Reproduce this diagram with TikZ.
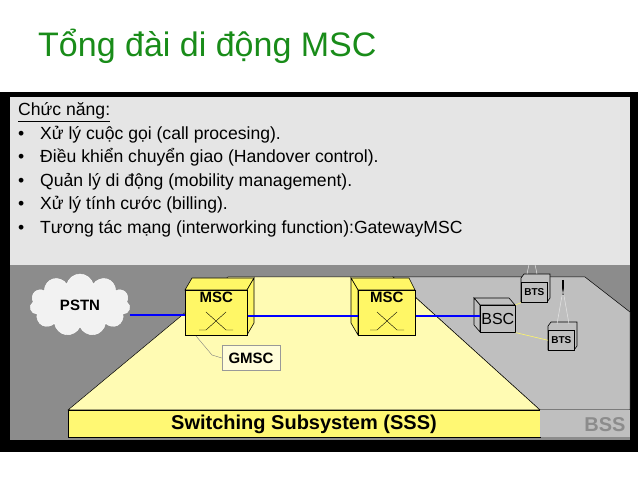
\documentclass[tikz,border=0pt]{standalone}
\usepackage{fontspec}
\setmainfont{Liberation Sans}
\usetikzlibrary{shapes.symbols}
\begin{document}
\begin{tikzpicture}[x=1pt,y=-1pt,
  cubef/.style={draw=black,line width=0.6pt},
  lbl/.style={font=\fontsize{15}{17}\selectfont\bfseries},
  bul/.style={anchor=base west,font=\fontsize{17.6}{21}\selectfont}]
\useasboundingbox (0,0) rectangle (638,478);
\fill[white] (0,0) rectangle (638,478);
\node[anchor=base west,text=green!50!black!90,font=\fontsize{34}{40}\selectfont,inner sep=0] (title) at (38,57) {Tổng đài di động MSC};
\fill[black] (0,92) rectangle (638,452);
\fill[black!45] (10,265) rectangle (630,440);
\fill[black!10] (10,97) rectangle (630,265);
% BSS region
\filldraw[fill=black!25,draw=black,line width=0.5pt] (393,277) -- (585,277) -- (630,312) -- (630,410) -- (540,410) -- cycle;
% SSS region
\filldraw[fill=yellow!30,draw=black,line width=0.5pt] (228,277) -- (393,277) -- (540,410) -- (68,410) -- cycle;
\filldraw[fill=yellow!55,draw=black,line width=0.6pt] (68,410) rectangle (540,437);
\fill[black!25] (540,410) rectangle (630,437);
\node[font=\fontsize{20}{24}\selectfont\bfseries] (sss) at (304,424) {Switching Subsystem (SSS)};
\node[font=\fontsize{20}{24}\selectfont\bfseries,text=black!45] (bss) at (605,425) {BSS};
% PSTN cloud
\node[cloud,cloud puffs=11,aspect=1.8,fill=black!5,draw=white,minimum width=100,minimum height=62,lbl] (pstn) at (80,305) {PSTN};
% MSC1
\filldraw[cubef,fill=yellow!60] (185,290) -- (192,278) -- (254,278) -- (247,290) -- cycle;
\filldraw[cubef,fill=yellow!60] (247,290) -- (254,278) -- (254,323) -- (247,335) -- cycle;
\node[cubef,fill=yellow!60,minimum width=62,minimum height=45,inner sep=0,anchor=north west] (msc1) at (185,290) {};
\node[lbl,anchor=north,inner sep=2] (m1t) at (msc1.north) {MSC};
\draw (199,330) -- (206,330) -- (226,312) (206,312) -- (226,330) -- (233,330);
% MSC2
\filldraw[cubef,fill=yellow!60] (358,290) -- (351,278) -- (409,278) -- (415,290) -- cycle;
\filldraw[cubef,fill=yellow!60] (358,290) -- (351,278) -- (351,323) -- (358,335) -- cycle;
\node[cubef,fill=yellow!60,minimum width=57,minimum height=45,inner sep=0,anchor=north west] (msc2) at (358,290) {};
\node[lbl,anchor=north,inner sep=2] (m2t) at (msc2.north) {MSC};
\draw (370,330) -- (377,330) -- (397,312) (377,312) -- (397,330) -- (404,330);
% BSC
\filldraw[cubef,fill=black!25] (480,305) -- (474,298) -- (509,298) -- (515,305) -- cycle;
\filldraw[cubef,fill=black!25] (480,305) -- (474,298) -- (474,325) -- (480,332) -- cycle;
\node[cubef,fill=black!25,minimum width=35,minimum height=27,inner sep=0,anchor=north west,font=\fontsize{16}{18}\selectfont] (bsc) at (480,305) {BSC};
% BTS
\foreach \n/\x/\y in {bts1/521/278, bts2/548/326}{
  \filldraw[cubef,fill=black!25] (\x,\y) -- (\x+3,\y-4) -- (\x+29,\y-4) -- (\x+29,\y+20) -- (\x+26,\y+24) -- (\x,\y+24) -- cycle;
  \node[cubef,fill=black!25,minimum width=26,minimum height=20,inner sep=0,anchor=north west,font=\fontsize{10}{11}\selectfont\bfseries] (\n) at (\x,\y+4) {BTS};
}
\draw[black!10,line width=0.5pt] (532,232) -- (532,262) (527,274) -- (532,250) -- (537,274);
\draw[black,line width=2pt] (563,280) -- (563,295);
\draw[black!10,line width=0.5pt] (557,324) -- (563,290) -- (569,324);
\draw[yellow!60,line width=0.6pt] (bsc.north east) -- (bts1.south west) (bsc.south east) -- (bts2.west);
% blue lines
\draw[blue,line width=1.2pt] (pstn.east |- 0,315) -- (msc1.west |- 0,315);
\draw[blue,line width=1.2pt] (msc1.east |- 0,316) -- (msc2.west |- 0,316);
\draw[blue,line width=1.2pt] (msc2.east |- 0,316) -- (bsc.west |- 0,316);
% GMSC
\node[draw=black!40,fill=yellow!15,minimum width=58,minimum height=25,inner sep=1,lbl] (gmsc) at (251,358) {GMSC};
\draw[black!50] (196,336) -- (212,355) -- (gmsc.west);
% text
\node[bul,inner sep=0] (h) at (18,116) {\underline{Chức năng:}};
\foreach \t [count=\i] in {Xử lý cuộc gọi (call procesing).,Điều khiển chuyển giao (Handover control).,Quản lý di động (mobility management).,Xử lý tính cước (billing).,Tương tác mạng (interworking function):GatewayMSC}{
  \node[bul,inner sep=0] (b\i) at (40,116+23.5*\i) {\t};
  \node[bul,inner sep=0] (d\i) at (18,116+23.5*\i) {•};
}
\end{tikzpicture}
\end{document}
